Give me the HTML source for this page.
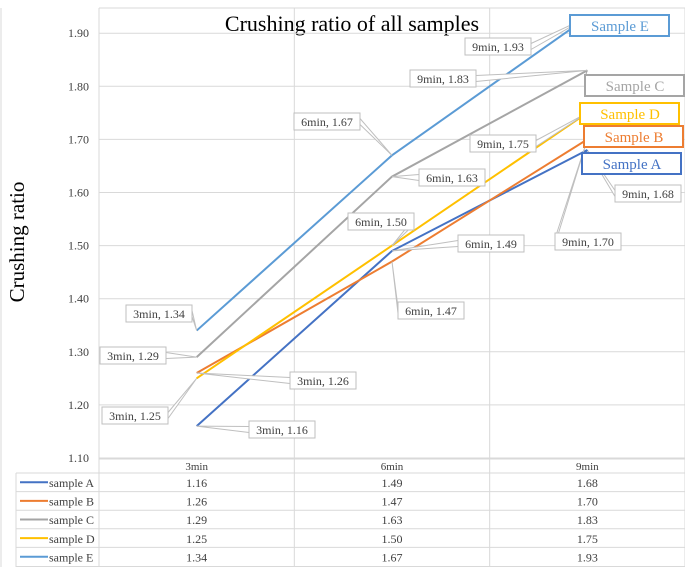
<!DOCTYPE html>
<html><head><meta charset="utf-8"><style>
body{margin:0;background:#fff}
svg{display:block;font-family:"Liberation Serif",serif}
</style></head><body>
<svg id="c" width="685" height="567" viewBox="0 0 685 567">
<text x="352" y="31" font-size="22" text-anchor="middle">Crushing ratio of all samples</text>
<text transform="translate(24,242) rotate(-90)" font-size="21" text-anchor="middle">Crushing ratio</text>
<g id="grid"></g><g id="lines"></g><g id="labels"></g><g id="table"></g>
</svg>
<script>
const categories=["3min","6min","9min"];
const seriesNames=["sample A","sample B","sample C","sample D","sample E"];
const legendNames=["Sample A","Sample B","Sample C","Sample D","Sample E"];
const colors=["#4472c4","#ed7d31","#a5a5a5","#ffc000","#5b9bd5"];
const sampleA=[1.16,1.49,1.68];
const sampleB=[1.26,1.47,1.70];
const sampleC=[1.29,1.63,1.83];
const sampleD=[1.25,1.50,1.75];
const sampleE=[1.34,1.67,1.93];
const yTicks=[1.10,1.20,1.30,1.40,1.50,1.60,1.70,1.80,1.90];
const series=[sampleA,sampleB,sampleC,sampleD,sampleE];
const NS="http://www.w3.org/2000/svg";
const L=99,R=685,colW=(R-L)/3;
const y=v=>458-(v-1.1)*531;
const x=i=>L+colW*(i+0.5);
function mk(p,t,a){const e=document.createElementNS(NS,t);for(const k in a)e.setAttribute(k,a[k]);p.appendChild(e);return e;}
const grid=document.getElementById('grid');
yTicks.forEach(v=>{
  const ln=mk(grid,'line',{x1:L,x2:R,y1:y(v),y2:y(v),stroke:'#d9d9d9'});
  
  
  const t=mk(grid,'text',{x:89,y:y(v)+4,'font-size':12,'text-anchor':'end',fill:'#404040'});
  t.textContent=v.toFixed(2);
  
  
});
[0,1,2,3].forEach(i=>{const ln=mk(grid,'line',{x1:L+colW*i,x2:L+colW*i,y1:8,y2:567,stroke:'#d9d9d9'});
  
  });
mk(grid,'line',{x1:L,x2:R,y1:8,y2:8,stroke:'#d9d9d9'});
mk(grid,'line',{x1:1,x2:1,y1:8,y2:567,stroke:'#d9d9d9'});
const lines=document.getElementById('lines');
series.forEach((s,k)=>{
  const pl=mk(lines,'polyline',{points:s.map((v,i)=>x(i)+','+y(v)).join(' '),fill:'none',stroke:colors[k],'stroke-width':2});
  
  
});
const lbl=[[4,0,126,305],[2,0,100,347],[1,0,290,372],[3,0,102,407],[0,0,249,421],
[4,1,294,113],[2,1,419,169],[3,1,348,213],[0,1,458,235],[1,1,398,302],
[4,2,465,38],[2,2,410,70],[3,2,470,135],[1,2,555,233],[0,2,615,185]];
const lab=document.getElementById('labels');
lbl.forEach(([k,i,bx,by])=>{
  const w=66,h=17,v=series[k][i];
  const cx=bx+w/2,cy=by+h/2;
  const ex=cx<x(i)?bx+w:bx;
  mk(lab,'polyline',{points:`${ex},${cy-3} ${x(i)},${y(v)} ${ex},${cy+3}`,fill:'#fff',stroke:'#bfbfbf'});
  mk(lab,'rect',{x:bx,y:by,width:w,height:h,fill:'#fff',stroke:'#bfbfbf'});
  const t=mk(lab,'text',{x:cx,y:by+13,'font-size':12,'text-anchor':'middle',fill:'#404040'});
  t.textContent=categories[i]+', '+v.toFixed(2);
  
  
});
const nb=[[0,582,153],[1,584,126],[2,585,75],[3,580,103],[4,570,15]];
nb.forEach(([k,bx,by])=>{
  const v=series[k][2];
  mk(lab,'line',{x1:x(2),y1:y(v),x2:bx,y2:by+(k==4?20:2),stroke:colors[k],'stroke-width':k==2?1:2});
  mk(lab,'rect',{x:bx,y:by,width:99,height:21,fill:'#fff',stroke:colors[k],'stroke-width':2});
  const t=mk(lab,'text',{x:bx+50,y:by+16,'font-size':15,'text-anchor':'middle',fill:colors[k]});
  t.textContent=legendNames[k];
  
  
});
const tb=document.getElementById('table');
const tableTop=459,rh=18.6;
mk(tb,'line',{x1:L,x2:R,y1:tableTop,y2:tableTop,stroke:'#d9d9d9'});
categories.forEach((c,i)=>{const t=mk(tb,'text',{x:x(i),y:tableTop+11,'font-size':11,'text-anchor':'middle',fill:'#404040'});t.textContent=c;
  
  });
series.forEach((s,k)=>{
  const ry=tableTop+14+rh*k;
  mk(tb,'line',{x1:16,x2:R,y1:ry,y2:ry,stroke:'#d9d9d9'});
  mk(tb,'line',{x1:20,x2:48,y1:ry+rh/2,y2:ry+rh/2,stroke:colors[k],'stroke-width':2});
  const n=mk(tb,'text',{x:49,y:ry+14,'font-size':12,fill:'#404040'});n.textContent=seriesNames[k];
  
  
  s.forEach((v,i)=>{const t=mk(tb,'text',{x:x(i),y:ry+14,'font-size':12,'text-anchor':'middle',fill:'#404040'});t.textContent=v.toFixed(2);
    
    });
});
mk(tb,'line',{x1:16,x2:16,y1:tableTop+14,y2:567,stroke:'#d9d9d9'});
mk(tb,'line',{x1:16,x2:R,y1:566.5,y2:566.5,stroke:'#d9d9d9'});
</script>
</body></html>
